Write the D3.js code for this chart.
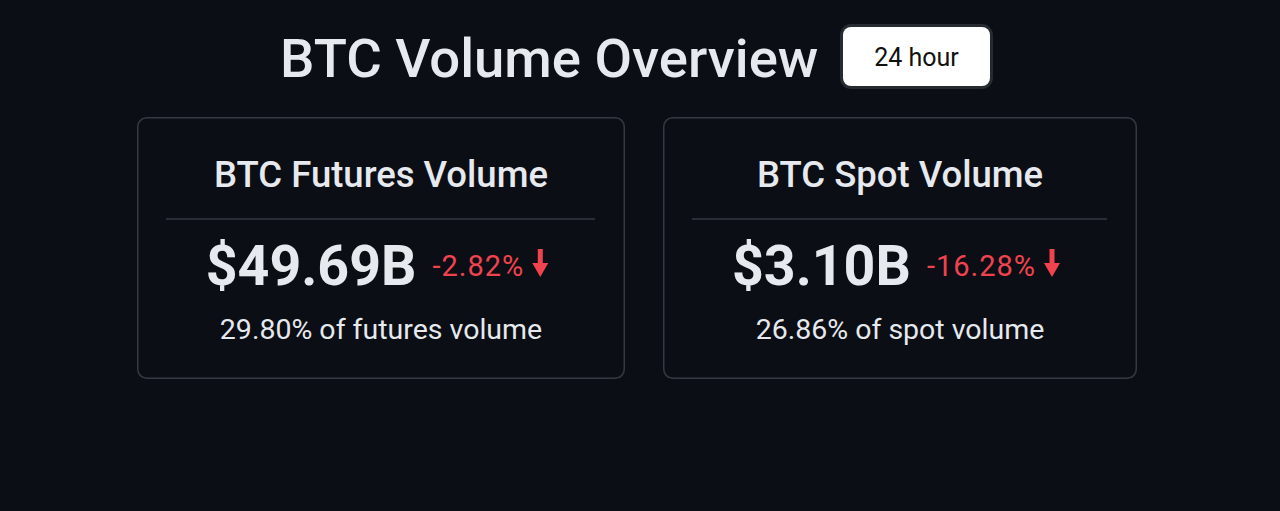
<!DOCTYPE html>
<html>
<head>
<meta charset="utf-8">
<script src="https://cdn.jsdelivr.net/npm/d3@7"></script>
<style>
  html, body { margin: 0; padding: 0; background: #0b0e14; }
  svg { display: block; }
  text { font-family: Roboto, "Noto Sans", sans-serif; }
</style>
</head>
<body>
<div class="canva"></div>
<script>
// values
const heading = 'BTC Volume Overview';
const period = '24 hour';
const cardTitles = ['BTC Futures Volume', 'BTC Spot Volume'];
const volumes = [49.69, 3.10];        // billions USD
const changes = [-2.82, -16.28];      // percent, 24h
const shares = [29.80, 26.86];        // percent of market
const shareKinds = ['futures', 'spot'];

const width = 1280, height = 511;
const bg = '#0b0e14', fg = '#e6e9ee', red = '#f0434f', line = '#353a42';

const svg = d3.select('.canva').append('svg')
    .attr('width', width)
    .attr('height', height);

svg.append('rect').attr('width', width).attr('height', height).attr('fill', bg);

// header
svg.append('text')
    .attr('x', 280)
    .attr('y', 77)
    .attr('fill', fg)
    .attr('font-size', 54.5)
    .attr('font-weight', 500)
    .text(heading);

const btn = svg.append('g').attr('transform', 'translate(843,27)');
btn.append('rect')
    .attr('x', -3).attr('y', -3)
    .attr('width', 153).attr('height', 65)
    .attr('rx', 11)
    .attr('fill', '#262a31');
btn.append('rect')
    .attr('width', 147).attr('height', 59)
    .attr('rx', 8)
    .attr('fill', '#ffffff');
btn.append('text')
    .attr('x', 73.5).attr('y', 39)
    .attr('text-anchor', 'middle')
    .attr('fill', '#111')
    .attr('font-size', 25)
    .text(period);

// cards
const cards = cardTitles.map((t, i) => ({
    title: t, vol: volumes[i], chg: changes[i], share: shares[i], kind: shareKinds[i]
}));
const cardX = [137, 663], cardW = [488, 474];
const cardTop = 117, cardH = 262;

const fmtVol = d => '$' + d3.format('.2f')(d) + 'B';
const fmtPct = d => (d < 0 ? '-' : '') + Math.abs(d).toFixed(2) + '%';

const g = svg.selectAll('g.card')
    .data(cards)
    .enter().append('g')
    .attr('class', 'card')
    .attr('transform', (d, i) => `translate(${cardX[i]},${cardTop})`);

g.append('rect')
    .attr('x', 0.75).attr('y', 0.75)
    .attr('width', (d, i) => cardW[i] - 1.5)
    .attr('height', cardH - 1.5)
    .attr('rx', 9)
    .attr('fill', 'none')
    .attr('stroke', line)
    .attr('stroke-width', 1.5);

g.append('text')
    .attr('x', (d, i) => cardW[i] / 2)
    .attr('y', 70)
    .attr('text-anchor', 'middle')
    .attr('fill', fg)
    .attr('font-size', 36.5)
    .attr('font-weight', 500)
    .text(d => d.title);

g.append('line')
    .attr('x1', 29)
    .attr('x2', (d, i) => cardW[i] - 30)
    .attr('y1', 102).attr('y2', 102)
    .attr('stroke', line)
    .attr('stroke-width', 1.5);

// value row: big number, change, arrow, centered as a group
g.each(function(d, i) {
    const c = d3.select(this);
    const row = c.append('g');
    const big = row.append('text')
        .attr('y', 168)
        .attr('fill', fg)
        .attr('font-size', 55.5)
        .attr('font-weight', 700)
        .text(fmtVol(d.vol));
    const bw = big.node().getComputedTextLength();
    const pct = row.append('text')
        .attr('x', bw + 16)
        .attr('y', 159)
        .attr('fill', red)
        .attr('font-size', 29)
        .attr('letter-spacing', 1)
        .text(fmtPct(d.chg));
    const pw = pct.node().getComputedTextLength();
    const ax = bw + 16 + pw + 8;
    // down arrow
    row.append('path')
        .attr('d', `M${ax + 5.5},132 h5 v14 h5.5 l-8,14 l-8,-14 h5.5 z`)
        .attr('fill', red);
    const total = ax + 16 + 8;
    row.attr('transform', `translate(${(cardW[i] - total) / 2},0)`);
});

g.append('text')
    .attr('x', (d, i) => cardW[i] / 2)
    .attr('y', 222)
    .attr('text-anchor', 'middle')
    .attr('fill', fg)
    .attr('font-size', 28.5)
    .text(d => `${fmtPct(d.share)} of ${d.kind} volume`);
</script>
</body>
</html>
